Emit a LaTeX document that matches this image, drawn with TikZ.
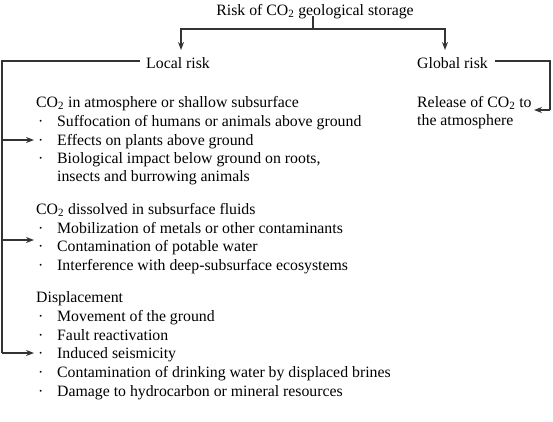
\documentclass[tikz,border=0pt]{standalone}
\usepackage{fontspec}
\setmainfont{Liberation Serif}
\usetikzlibrary{arrows.meta}
\begin{document}
\begin{tikzpicture}[x=1pt,y=-1pt,
  txt/.style={anchor=west,inner sep=0pt,text height=11pt,text depth=1pt,font=\fontsize{15.8}{18}\selectfont,text=black},
  conn/.style={line width=1.3pt,draw=black!80},
  arr/.style={conn,-{Stealth[length=8pt,width=6pt]}}]
\useasboundingbox (0,0) rectangle (553,421);
% title and branches
\node[txt,anchor=center] (title) at (315,10) {Risk of CO\textsubscript{2} geological storage};
\node[txt] (local) at (146,63) {Local risk};
\node[txt] (global) at (417,63) {Global risk};
\coordinate (j) at (313,29);
\coordinate (la) at (181,50);
\coordinate (ga) at (445,50);
\draw[conn] (title.south -| j) -- (j);
\draw[arr] (j) -| (la);
\draw[arr] (j) -| (ga);
% local block
\node[txt] (h1) at (36,102) {CO\textsubscript{2} in atmosphere or shallow subsurface};
\node[txt] (b11) at (38,121) {·};
\node[txt] (i11) at (57,121) {Suffocation of humans or animals above ground};
\node[txt] (b12) at (38,140) {·};
\node[txt] (i12) at (57,140) {Effects on plants above ground};
\node[txt] (b13) at (38,158) {·};
\node[txt] (i13) at (57,158) {Biological impact below ground on roots,};
\node[txt] (i13b) at (57,176) {insects and burrowing animals};
\node[txt] (h2) at (36,209) {CO\textsubscript{2} dissolved in subsurface fluids};
\node[txt] (b21) at (38,228) {·};
\node[txt] (i21) at (57,228) {Mobilization of metals or other contaminants};
\node[txt] (b22) at (38,246) {·};
\node[txt] (i22) at (57,246) {Contamination of potable water};
\node[txt] (b23) at (38,265) {·};
\node[txt] (i23) at (57,265) {Interference with deep-subsurface ecosystems};
\node[txt] (h3) at (36,297) {Displacement};
\node[txt] (b31) at (38,316) {·};
\node[txt] (i31) at (57,316) {Movement of the ground};
\node[txt] (b32) at (38,335) {·};
\node[txt] (i32) at (57,335) {Fault reactivation};
\node[txt] (b33) at (38,353) {·};
\node[txt] (i33) at (57,353) {Induced seismicity};
\node[txt] (b34) at (38,372) {·};
\node[txt] (i34) at (57,372) {Contamination of drinking water by displaced brines};
\node[txt] (b35) at (38,391) {·};
\node[txt] (i35) at (57,391) {Damage to hydrocarbon or mineral resources};
% local connectors
\coordinate (lt) at (2,61);
\coordinate (lb) at (2,353);
\draw[conn] ([xshift=-6pt]local.west |- lt) -- (lt) -- (lb);
\draw[arr] (2,140) -- ([xshift=-4pt]b12.west);
\draw[arr] (2,240) -- ([xshift=-4pt]b22.west |- 0,240);
\draw[arr] (lb) -- ([xshift=-4pt]b33.west);
% global block
\node[txt] (r1) at (417,102) {Release of CO\textsubscript{2} to};
\node[txt] (r2) at (417,120) {the atmosphere};
\coordinate (gt) at (550,61);
\coordinate (gb) at (550,110);
\draw[conn] ([xshift=7pt]global.east |- gt) -- (gt) -- (gb);
\draw[arr] (gb) -- (534,110);
\end{tikzpicture}
\end{document}
